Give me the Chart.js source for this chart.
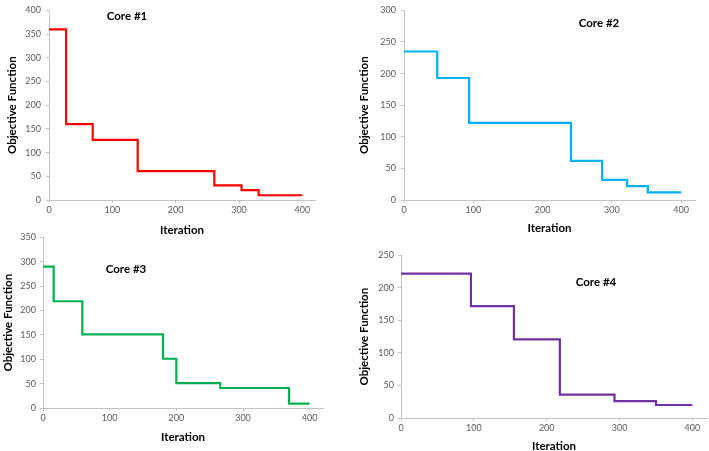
<!DOCTYPE html>
<html>
<head>
<meta charset="utf-8">
<script src="https://cdn.jsdelivr.net/npm/chart.js@4.4.1/dist/chart.umd.min.js"></script>
<style>
  html, body { margin: 0; padding: 0; background: #fff; overflow: hidden; }
  body { width: 709px; height: 451px; position: relative; }
  .box { position: absolute; }
  .core { position: absolute; font: bold 11.5px Lato, sans-serif; color: #000; transform: translate(-50%, -50%); white-space: nowrap; }
</style>
</head>
<body>
<div class="box" style="left:0;top:0;width:325px;height:237px"><canvas id="c1"></canvas></div>
<div class="box" style="left:355px;top:0;width:354px;height:235px"><canvas id="c2"></canvas></div>
<div class="box" style="left:0;top:228px;width:330px;height:216px"><canvas id="c3"></canvas></div>
<div class="box" style="left:355px;top:246px;width:354px;height:207px"><canvas id="c4"></canvas></div>
<div class="core" style="left:127px;top:15px">Core #1</div>
<div class="core" style="left:599px;top:22px">Core #2</div>
<div class="core" style="left:126px;top:268px">Core #3</div>
<div class="core" style="left:596px;top:281px">Core #4</div>
<script>
// --- data: iteration where the value changes, and the value ---
const core1Iter = [0, 27, 69, 140, 261, 304, 331, 400];
const core1Value = [360, 160, 127, 61, 31, 21, 10, 10];

const core2Iter = [0, 48, 94, 241, 286, 322, 352, 400];
const core2Value = [235, 193, 122, 62, 32, 22, 12, 12];

const core3Iter = [0, 16, 59, 180, 200, 266, 369, 400];
const core3Value = [290, 219, 151, 101, 51, 41, 9, 9];

const core4Iter = [0, 96, 155, 218, 293, 350, 400];
const core4Value = [222, 172, 121, 36, 26, 20, 20];

const yMax = [400, 300, 350, 250];
const yStep = [50, 50, 50, 50];
const xTicks = [0, 100, 200, 300, 400];

const axisColor = "#c3c3c3";
const tickColor = "#595959";

function makePoints(iters, values) {
  return iters.map((x, i) => ({ x: x, y: values[i] }));
}

function drawCore(id, iters, values, color, ymax, ystep, lay) {
  const ctx = document.getElementById(id).getContext("2d");
  return new Chart(ctx, {
    type: "line",
    data: {
      datasets: [
        {
          data: makePoints(iters, values),
          borderColor: color,
          borderWidth: 2.2,
          stepped: "before", // hold the value, then drop
          pointRadius: 0,
          fill: false,
        },
      ],
    },
    options: {
      responsive: true,
      maintainAspectRatio: false,
      animation: false,
      layout: { padding: { left: lay.padL, right: lay.padR, top: lay.padT, bottom: 0 } },
      plugins: { legend: { display: false }, tooltip: { enabled: false } },
      scales: {
        x: {
          type: "linear",
          min: 0,
          max: 420,
          afterBuildTicks: (s) => { s.ticks = xTicks.map((v) => ({ value: v })); },
          afterFit: (s) => { s.height = lay.xH; },
          border: { display: true, color: axisColor, width: 1 },
          grid: { drawOnChartArea: false, drawTicks: true, tickLength: 3, color: axisColor },
          ticks: { color: tickColor, font: { family: "Lato", size: 9 }, padding: 2, maxRotation: 0 },
          title: {
            display: true,
            text: "Iteration",
            color: "#000",
            font: { family: "Lato", size: 11.5, weight: "bold" },
            padding: 0,
          },
        },
        y: {
          min: 0,
          max: ymax,
          afterFit: (s) => { s.width = lay.yW; },
          border: { display: true, color: axisColor, width: 1 },
          grid: { drawOnChartArea: false, drawTicks: true, tickLength: 3, color: axisColor },
          ticks: { stepSize: ystep, color: tickColor, font: { family: "Lato", size: 9 }, padding: lay.tickPad },
          title: {
            display: true,
            text: "Objective Function",
            color: "#000",
            font: { family: "Lato", size: 11.5, weight: "bold" },
            padding: 0,
          },
        },
      },
    },
  });
}

drawCore("c1", core1Iter, core1Value, "#ff0000", yMax[0], yStep[0], { padL: 5, padR: 10, padT: 6, yW: 44, xH: 37, tickPad: 5 });
drawCore("c2", core2Iter, core2Value, "#00b0f0", yMax[1], yStep[1], { padL: 2, padR: 14, padT: 9, yW: 47, xH: 35, tickPad: 5 });
drawCore("c3", core3Iter, core3Value, "#00b050", yMax[2], yStep[2], { padL: 1, padR: 7, padT: 9, yW: 42, xH: 36, tickPad: 4 });
drawCore("c4", core4Iter, core4Value, "#7030a0", yMax[3], yStep[3], { padL: 2, padR: 2, padT: 9, yW: 44, xH: 35, tickPad: 4 });
</script>
</body>
</html>
